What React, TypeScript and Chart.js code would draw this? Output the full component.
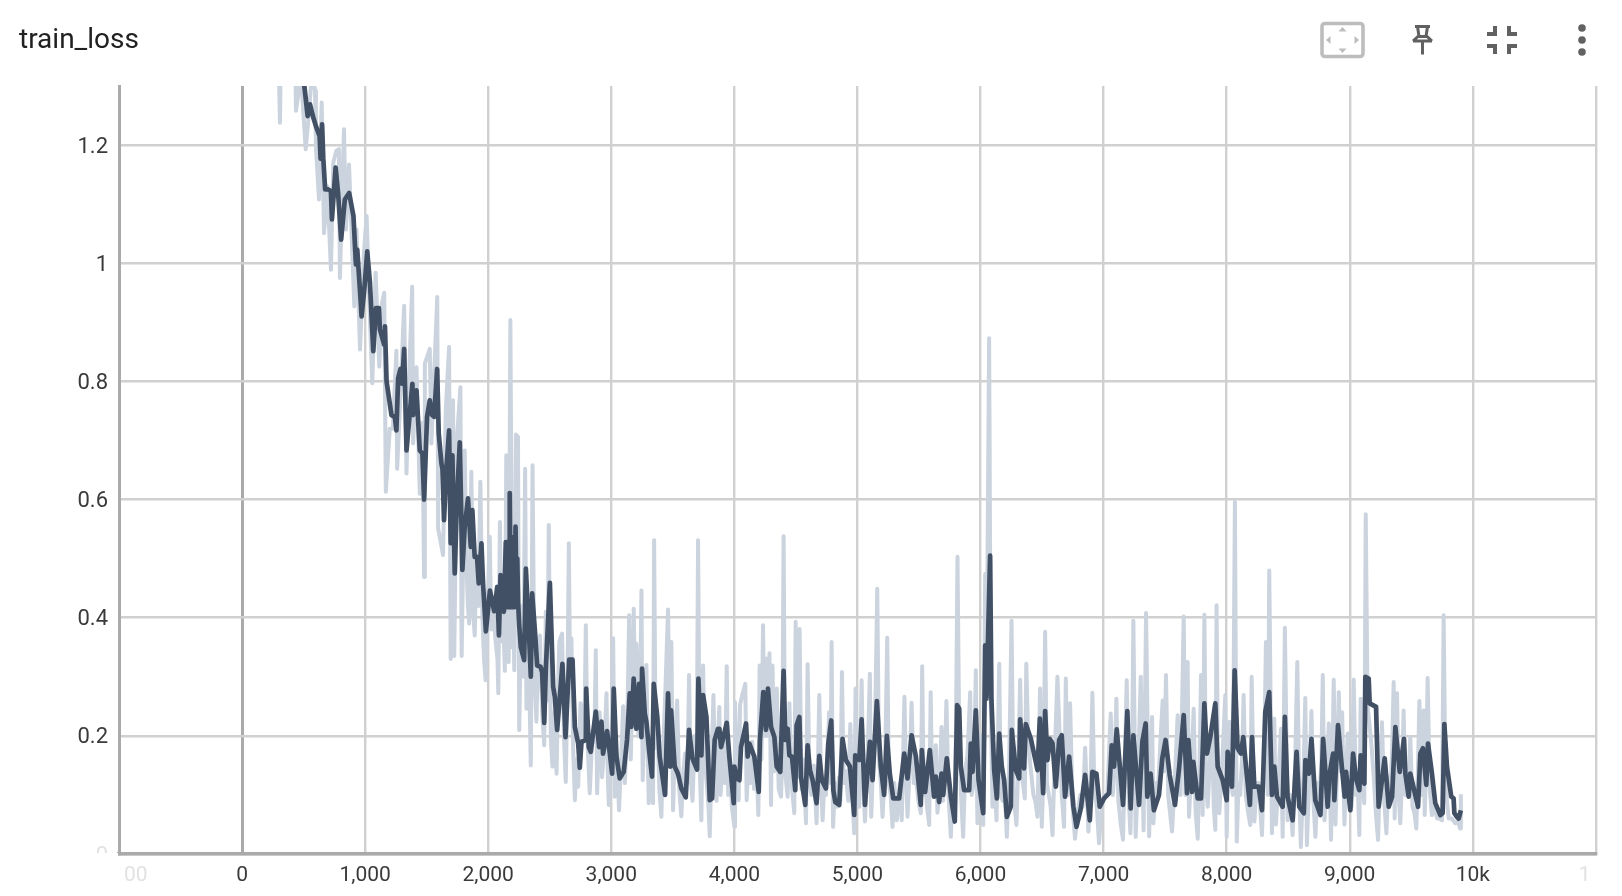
import { useEffect, useRef } from 'react';
import { Chart, registerables } from 'chart.js';

Chart.register(...registerables);

const TITLE = 'train_loss';
const X_TICKS = [-1000, 0, 1000, 2000, 3000, 4000, 5000, 6000, 7000, 8000, 9000, 10000, 11000];
const X_TICK_LABELS: Record<number, string> = { 10000: '10k', 11000: '11k' };
const FADED_X_TICKS = [-1000, 11000];

// smoothed line
const smoothSteps = [
  270, 400, 506, 533, 552, 574, 600, 630, 638, 650,
  660, 675, 700, 722, 730, 760, 780, 805, 835, 870,
  905, 925, 936, 963, 971, 993, 1017, 1039, 1066, 1088,
  1112, 1120, 1155, 1161, 1174, 1214, 1241, 1254, 1268, 1287,
  1300, 1317, 1336, 1384, 1390, 1417, 1444, 1465, 1479, 1503,
  1525, 1544, 1560, 1585, 1598, 1620, 1628, 1641, 1660, 1682,
  1695, 1709, 1728, 1747, 1769, 1790, 1809, 1836, 1858, 1871,
  1890, 1909, 1923, 1945, 1958, 1981, 2014, 2049, 2073, 2087,
  2100, 2127, 2143, 2148, 2154, 2160, 2166, 2171, 2175, 2182,
  2188, 2194, 2199, 2204, 2210, 2216, 2222, 2230, 2236, 2243,
  2252, 2265, 2292, 2306, 2330, 2346, 2357, 2379,
  2398, 2425, 2438, 2455, 2468, 2501, 2528, 2541, 2560, 2582,
  2603, 2628, 2658, 2685, 2704, 2731, 2744, 2758, 2793, 2796,
  2817, 2833, 2874, 2901, 2920, 2933, 2966, 2988, 3007, 3020,
  3042, 3069, 3101, 3128, 3150, 3163, 3182, 3204, 3226, 3245,
  3250, 3272, 3285, 3307, 3331, 3345, 3374, 3393, 3437, 3461,
  3480, 3486, 3515, 3542, 3569, 3605, 3632, 3659, 3697, 3708,
  3732, 3746, 3773, 3800, 3819, 3840, 3867, 3878, 3892, 3938,
  3959, 3995, 4000, 4019, 4041, 4054, 4095, 4108, 4122, 4162,
  4198, 4208, 4235, 4257, 4273, 4298, 4325, 4344, 4373, 4400,
  4414, 4433, 4447, 4468, 4495, 4506, 4528, 4541, 4576, 4595,
  4614, 4636, 4668, 4690, 4711, 4744, 4763, 4787, 4804, 4820,
  4852, 4879, 4906, 4939, 4974, 4982, 5015, 5034, 5061, 5101,
  5123, 5158, 5190, 5217, 5239, 5263, 5291, 5339, 5380, 5407,
  5440, 5475, 5515, 5523, 5550, 5588, 5623, 5637, 5664, 5683,
  5697, 5726, 5759, 5791, 5810, 5827, 5840, 5867, 5908, 5921,
  5935, 5962, 5984, 6022, 6038, 6049, 6078, 6089, 6111, 6133,
  6152, 6173, 6192, 6214, 6246, 6254, 6287, 6314, 6322, 6354,
  6368, 6409, 6463, 6482, 6509, 6525, 6544, 6563, 6585, 6612,
  6639, 6660, 6687, 6720, 6755, 6780, 6815, 6850, 6888, 6909,
  6942, 6969, 7004, 7045, 7066, 7085, 7107, 7158, 7193, 7220,
  7242, 7288, 7315, 7342, 7355, 7382, 7409, 7450, 7477, 7504,
  7537, 7580, 7612, 7651, 7678, 7689, 7719, 7729, 7765, 7792,
  7819, 7840, 7867, 7908, 7927, 7968, 8000, 8008, 8043, 8065,
  8089, 8116, 8135, 8157, 8189, 8206, 8225, 8260, 8287, 8314,
  8346, 8368, 8387, 8409, 8455, 8473, 8495, 8536, 8568, 8590,
  8627, 8640, 8668, 8689, 8720, 8762, 8784, 8821, 8835, 8865,
  8875, 8905, 8932, 8959, 8970, 9005, 9027, 9051, 9078, 9089,
  9119, 9127, 9154, 9162, 9214, 9235, 9284, 9317, 9344, 9371,
  9406, 9441, 9452, 9479, 9492, 9555, 9574, 9595, 9622, 9636,
  9668, 9695, 9736, 9755, 9769, 9790, 9825, 9844, 9850, 9871,
  9885, 9903,
];
const smoothLoss = [
  1.65, 1.45, 1.3, 1.249, 1.269, 1.25, 1.232, 1.215, 1.177, 1.235,
  1.177, 1.125, 1.125, 1.122, 1.074, 1.162, 1.119, 1.04, 1.108, 1.119,
  1.08, 0.998, 1.023, 0.938, 0.91, 0.955, 1.02, 0.967, 0.851, 0.924,
  0.924, 0.888, 0.862, 0.893, 0.8, 0.743, 0.74, 0.717, 0.805, 0.821,
  0.796, 0.855, 0.683, 0.796, 0.743, 0.785, 0.683, 0.678, 0.6, 0.74,
  0.768, 0.743, 0.74, 0.821, 0.712, 0.661, 0.652, 0.565, 0.652, 0.717,
  0.526, 0.675, 0.475, 0.604, 0.697, 0.481, 0.554, 0.602, 0.52, 0.582,
  0.503, 0.503, 0.458, 0.526, 0.458, 0.377, 0.446, 0.411, 0.452, 0.37,
  0.472, 0.41, 0.528, 0.418, 0.528, 0.418, 0.52, 0.418, 0.611, 0.418,
  0.5, 0.418, 0.536, 0.418, 0.5, 0.418, 0.554, 0.42, 0.5, 0.425,
  0.387, 0.35, 0.328, 0.483, 0.379, 0.3, 0.441, 0.379,
  0.319, 0.317, 0.308, 0.222, 0.314, 0.459, 0.283, 0.266, 0.21, 0.266,
  0.322, 0.198, 0.329, 0.329, 0.215, 0.187, 0.146, 0.19, 0.193, 0.28,
  0.181, 0.173, 0.241, 0.181, 0.224, 0.17, 0.208, 0.17, 0.136, 0.28,
  0.165, 0.128, 0.139, 0.193, 0.272, 0.215, 0.297, 0.212, 0.288, 0.198,
  0.314, 0.238, 0.224, 0.176, 0.131, 0.288, 0.232, 0.165, 0.1, 0.272,
  0.148, 0.243, 0.148, 0.136, 0.111, 0.096, 0.21, 0.162, 0.143, 0.297,
  0.167, 0.269, 0.232, 0.091, 0.094, 0.193, 0.212, 0.212, 0.181, 0.222,
  0.165, 0.086, 0.148, 0.128, 0.125, 0.181, 0.221, 0.165, 0.187, 0.165,
  0.105, 0.193, 0.274, 0.21, 0.28, 0.215, 0.198, 0.148, 0.139, 0.31,
  0.193, 0.212, 0.167, 0.165, 0.108, 0.218, 0.232, 0.131, 0.083, 0.184,
  0.142, 0.125, 0.086, 0.166, 0.125, 0.111, 0.187, 0.226, 0.108, 0.088,
  0.083, 0.195, 0.159, 0.148, 0.066, 0.167, 0.159, 0.228, 0.083, 0.19,
  0.125, 0.259, 0.148, 0.1, 0.2, 0.136, 0.094, 0.094, 0.17, 0.128,
  0.201, 0.165, 0.083, 0.176, 0.105, 0.176, 0.097, 0.131, 0.088, 0.136,
  0.1, 0.162, 0.097, 0.055, 0.252, 0.246, 0.148, 0.108, 0.108, 0.187,
  0.139, 0.243, 0.125, 0.069, 0.353, 0.263, 0.505, 0.26, 0.142, 0.094,
  0.204, 0.148, 0.125, 0.063, 0.08, 0.21, 0.142, 0.128, 0.228, 0.145,
  0.22, 0.195, 0.142, 0.229, 0.103, 0.242, 0.159, 0.195, 0.187, 0.114,
  0.193, 0.201, 0.097, 0.165, 0.08, 0.046, 0.077, 0.134, 0.057, 0.139,
  0.136, 0.08, 0.094, 0.103, 0.184, 0.148, 0.211, 0.083, 0.242, 0.077,
  0.201, 0.083, 0.19, 0.221, 0.097, 0.136, 0.074, 0.1, 0.162, 0.193,
  0.134, 0.083, 0.142, 0.235, 0.103, 0.193, 0.105, 0.156, 0.094, 0.094,
  0.255, 0.17, 0.198, 0.255, 0.148, 0.125, 0.091, 0.173, 0.114, 0.311,
  0.179, 0.17, 0.198, 0.148, 0.083, 0.198, 0.114, 0.114, 0.074, 0.241,
  0.274, 0.1, 0.148, 0.097, 0.08, 0.232, 0.097, 0.057, 0.173, 0.08,
  0.069, 0.159, 0.136, 0.195, 0.091, 0.066, 0.195, 0.08, 0.134, 0.17,
  0.091, 0.218, 0.156, 0.097, 0.139, 0.074, 0.17, 0.128, 0.108, 0.167,
  0.119, 0.3, 0.297, 0.255, 0.249, 0.08, 0.162, 0.08, 0.097, 0.215,
  0.139, 0.195, 0.136, 0.097, 0.136, 0.08, 0.17, 0.179, 0.117, 0.187,
  0.136, 0.086, 0.066, 0.069, 0.22, 0.148, 0.097, 0.094, 0.069, 0.063,
  0.06, 0.074,
];

// raw line, drawn pale behind the smoothed one
const rawSteps = [
  270, 308, 330, 420, 438, 457, 470, 484, 517, 539,
  560, 575, 593, 600, 625, 647, 666, 693, 722, 741,
  765, 787, 795, 828, 844, 869, 912, 930, 958, 990,
  1012, 1030, 1058, 1085, 1115, 1135, 1155, 1168, 1200, 1225,
  1254, 1260, 1281, 1317, 1336, 1350, 1382, 1390, 1417, 1444,
  1465, 1479, 1485, 1525, 1538, 1586, 1593, 1633, 1655, 1682,
  1695, 1714, 1724, 1745, 1774, 1784, 1800, 1809, 1822, 1835,
  1845, 1855, 1863, 1875, 1890, 1905, 1920, 1936, 1953, 1966,
  1979, 1995, 2012, 2025, 2040, 2060, 2075, 2082, 2095, 2108,
  2120, 2135, 2147, 2158, 2166, 2180, 2195, 2203, 2212, 2225,
  2242, 2252, 2268, 2285, 2300, 2311, 2328, 2346, 2360, 2375,
  2392, 2405, 2420, 2438, 2455, 2468, 2480, 2492, 2508, 2522,
  2538, 2555, 2570, 2578, 2600, 2615, 2630, 2645, 2655, 2665,
  2676, 2690, 2704, 2718, 2731, 2742, 2750, 2772, 2785, 2793,
  2805, 2825, 2845, 2862, 2874, 2885, 2905, 2925, 2945, 2961,
  2972, 2980, 3000, 3015, 3028, 3045, 3063, 3080, 3096, 3110,
  3130, 3145, 3158, 3170, 3182, 3195, 3204, 3220, 3235, 3245,
  3255, 3270, 3285, 3304, 3322, 3339, 3348, 3360, 3375, 3390,
  3407, 3420, 3440, 3461, 3475, 3488, 3502, 3518, 3535, 3552,
  3569, 3585, 3600, 3618, 3632, 3645, 3660, 3678, 3695, 3705,
  3718, 3732, 3746, 3760, 3775, 3790, 3800, 3815, 3830, 3843,
  3855, 3867, 3878, 3888, 3905, 3922, 3938, 3950, 3965, 3980,
  4000, 4005, 4020, 4035, 4046, 4065, 4089, 4100, 4115, 4130,
  4145, 4160, 4180, 4195, 4205, 4220, 4233, 4245, 4257, 4270,
  4285, 4298, 4310, 4325, 4345, 4360, 4379, 4390, 4400, 4412,
  4433, 4447, 4465, 4487, 4498, 4512, 4530, 4545, 4562, 4582,
  4595, 4610, 4625, 4645, 4668, 4680, 4690, 4705, 4717, 4732,
  4745, 4770, 4782, 4790, 4802, 4818, 4835, 4850, 4862, 4874,
  4888, 4905, 4925, 4942, 4958, 4974, 4985, 4998, 5015, 5034,
  5048, 5061, 5080, 5101, 5112, 5128, 5142, 5161, 5175, 5190,
  5204, 5225, 5242, 5255, 5270, 5285, 5300, 5320, 5345, 5360,
  5382, 5395, 5407, 5425, 5440, 5458, 5475, 5495, 5515, 5526,
  5538, 5550, 5565, 5583, 5595, 5608, 5622, 5637, 5650, 5665,
  5683, 5695, 5710, 5723, 5740, 5759, 5772, 5790, 5800, 5813,
  5826, 5842, 5859, 5875, 5895, 5916, 5928, 5945, 5962, 5975,
  5990, 6005, 6022, 6038, 6050, 6070, 6083, 6097, 6115, 6130,
  6152, 6165, 6180, 6198, 6214, 6232, 6252, 6268, 6292, 6308,
  6322, 6338, 6360, 6372, 6388, 6405, 6430, 6445, 6463, 6484,
  6498, 6512, 6525, 6540, 6555, 6570, 6585, 6605, 6625, 6643,
  6660, 6679, 6693, 6710, 6728, 6748, 6768, 6790, 6810, 6830,
  6850, 6877, 6895, 6909, 6925, 6945, 6963, 6985, 7005, 7030,
  7058, 7075, 7090, 7104, 7120, 7140, 7158, 7172, 7188, 7203,
  7218, 7230, 7242, 7261, 7282, 7302, 7325, 7345, 7370, 7394,
  7405, 7425, 7440, 7467, 7480, 7493, 7507, 7525, 7556, 7580,
  7602, 7625, 7651, 7665, 7683, 7694, 7715, 7732, 7748, 7765,
  7780, 7792, 7805, 7819, 7832, 7846, 7865, 7880, 7895, 7908,
  7918, 7930, 7940, 7965, 7989, 8000, 8012, 8022, 8037, 8050,
  8067, 8082, 8097, 8110, 8125, 8138, 8155, 8175, 8192, 8203,
  8225, 8245, 8260, 8287, 8305, 8319, 8335, 8346, 8368, 8387,
  8400, 8420, 8441, 8455, 8473, 8495, 8515, 8536, 8555, 8574,
  8590, 8603, 8625, 8639, 8652, 8672, 8689, 8705, 8721, 8740,
  8755, 8770, 8781, 8795, 8815, 8830, 8848, 8860, 8870, 8884,
  8898, 8911, 8925, 8938, 8957, 8972, 8984, 9000, 9015, 9032,
  9050, 9065, 9078, 9089, 9105, 9118, 9130, 9145, 9160, 9178,
  9195, 9212, 9230, 9248, 9262, 9280, 9298, 9315, 9330, 9345,
  9357, 9365, 9384, 9398, 9411, 9425, 9438, 9452, 9465, 9480,
  9492, 9510, 9525, 9541, 9555, 9566, 9585, 9601, 9609, 9622,
  9633, 9650, 9668, 9690, 9710, 9730, 9750, 9763, 9777, 9790,
  9804, 9830, 9858, 9880, 9897, 9903,
];
const rawLoss = [
  1.6, 1.238, 1.6, 1.5, 1.258, 1.286, 1.36, 1.3, 1.193, 1.244,
  1.3, 1.32, 1.292, 1.198, 1.108, 1.272, 1.051, 1.13, 0.989, 1.17,
  1.19, 1.193, 0.975, 1.227, 1.057, 1.167, 0.927, 1.057, 0.854, 1.017,
  1.08, 0.96, 0.797, 0.984, 0.825, 0.93, 0.95, 0.613, 0.72, 0.72,
  0.852, 0.652, 0.75, 0.928, 0.644, 0.76, 0.96, 0.695, 0.824, 0.61,
  0.73, 0.469, 0.83, 0.855, 0.695, 0.943, 0.551, 0.506, 0.751, 0.858,
  0.33, 0.768, 0.335, 0.7, 0.79, 0.335, 0.55, 0.683, 0.5, 0.42,
  0.39, 0.5, 0.647, 0.42, 0.37, 0.5, 0.42, 0.63, 0.4, 0.33,
  0.294, 0.42, 0.537, 0.38, 0.42, 0.36, 0.33, 0.272, 0.562, 0.36,
  0.42, 0.31, 0.675, 0.33, 0.325, 0.904, 0.35, 0.42, 0.311, 0.71,
  0.706, 0.21, 0.42, 0.3, 0.652, 0.246, 0.36, 0.15, 0.658, 0.3,
  0.224, 0.35, 0.37, 0.24, 0.184, 0.41, 0.26, 0.557, 0.2, 0.148,
  0.24, 0.136, 0.3, 0.36, 0.373, 0.2, 0.122, 0.3, 0.526, 0.3,
  0.365, 0.18, 0.091, 0.16, 0.114, 0.2, 0.255, 0.2, 0.26, 0.387,
  0.2, 0.103, 0.2, 0.19, 0.345, 0.103, 0.24, 0.13, 0.19, 0.272,
  0.13, 0.083, 0.17, 0.365, 0.097, 0.17, 0.074, 0.16, 0.25, 0.12,
  0.22, 0.404, 0.16, 0.26, 0.415, 0.25, 0.356, 0.2, 0.28, 0.446,
  0.125, 0.22, 0.32, 0.086, 0.16, 0.086, 0.531, 0.18, 0.22, 0.11,
  0.063, 0.17, 0.28, 0.414, 0.2, 0.359, 0.074, 0.19, 0.26, 0.11,
  0.064, 0.14, 0.17, 0.12, 0.303, 0.13, 0.09, 0.2, 0.18, 0.531,
  0.15, 0.057, 0.319, 0.16, 0.12, 0.08, 0.03, 0.16, 0.269, 0.13,
  0.09, 0.2, 0.249, 0.1, 0.18, 0.12, 0.318, 0.1, 0.14, 0.08,
  0.046, 0.257, 0.14, 0.091, 0.252, 0.27, 0.288, 0.091, 0.17, 0.12,
  0.19, 0.11, 0.15, 0.066, 0.319, 0.16, 0.387, 0.2, 0.331, 0.2,
  0.34, 0.083, 0.319, 0.14, 0.28, 0.11, 0.097, 0.17, 0.538, 0.14,
  0.097, 0.255, 0.12, 0.069, 0.393, 0.13, 0.381, 0.11, 0.16, 0.052,
  0.321, 0.13, 0.1, 0.15, 0.052, 0.16, 0.269, 0.12, 0.057, 0.13,
  0.1, 0.24, 0.12, 0.359, 0.046, 0.12, 0.08, 0.13, 0.09, 0.308,
  0.12, 0.14, 0.09, 0.22, 0.1, 0.035, 0.28, 0.1, 0.08, 0.294,
  0.12, 0.055, 0.14, 0.305, 0.063, 0.16, 0.2, 0.449, 0.16, 0.12,
  0.063, 0.15, 0.366, 0.12, 0.1, 0.046, 0.12, 0.057, 0.12, 0.057,
  0.266, 0.13, 0.063, 0.15, 0.256, 0.12, 0.13, 0.09, 0.069, 0.318,
  0.1, 0.13, 0.08, 0.049, 0.274, 0.1, 0.14, 0.184, 0.07, 0.1,
  0.215, 0.09, 0.16, 0.259, 0.1, 0.029, 0.1, 0.09, 0.2, 0.503,
  0.22, 0.1, 0.029, 0.14, 0.17, 0.274, 0.1, 0.12, 0.311, 0.052,
  0.15, 0.2, 0.049, 0.474, 0.3, 0.873, 0.26, 0.08, 0.12, 0.057,
  0.322, 0.1, 0.09, 0.1, 0.029, 0.14, 0.395, 0.1, 0.049, 0.16,
  0.295, 0.13, 0.094, 0.322, 0.19, 0.15, 0.1, 0.09, 0.063, 0.28,
  0.046, 0.14, 0.376, 0.12, 0.1, 0.08, 0.032, 0.18, 0.3, 0.2,
  0.1, 0.046, 0.297, 0.1, 0.255, 0.08, 0.026, 0.07, 0.1, 0.08,
  0.18, 0.038, 0.12, 0.273, 0.11, 0.08, 0.018, 0.08, 0.1, 0.1,
  0.238, 0.1, 0.15, 0.263, 0.09, 0.05, 0.024, 0.15, 0.294, 0.1,
  0.035, 0.14, 0.395, 0.029, 0.15, 0.3, 0.04, 0.408, 0.03, 0.232,
  0.052, 0.12, 0.1, 0.21, 0.26, 0.14, 0.303, 0.1, 0.038, 0.13,
  0.235, 0.1, 0.402, 0.1, 0.325, 0.063, 0.15, 0.246, 0.07, 0.026,
  0.16, 0.303, 0.066, 0.405, 0.12, 0.08, 0.16, 0.22, 0.08, 0.041,
  0.421, 0.12, 0.069, 0.16, 0.269, 0.029, 0.15, 0.224, 0.12, 0.1,
  0.596, 0.021, 0.12, 0.1, 0.16, 0.269, 0.1, 0.07, 0.049, 0.3,
  0.055, 0.12, 0.12, 0.032, 0.16, 0.359, 0.1, 0.48, 0.035, 0.229,
  0.05, 0.12, 0.212, 0.029, 0.383, 0.057, 0.1, 0.032, 0.14, 0.325,
  0.1, 0.012, 0.14, 0.264, 0.015, 0.13, 0.242, 0.09, 0.029, 0.12,
  0.1, 0.16, 0.303, 0.057, 0.14, 0.221, 0.024, 0.16, 0.295, 0.05,
  0.15, 0.274, 0.14, 0.24, 0.05, 0.14, 0.204, 0.1, 0.08, 0.295,
  0.1, 0.12, 0.032, 0.263, 0.12, 0.086, 0.575, 0.25, 0.221, 0.18,
  0.13, 0.07, 0.024, 0.15, 0.223, 0.09, 0.035, 0.13, 0.1, 0.18,
  0.291, 0.06, 0.272, 0.1, 0.052, 0.13, 0.243, 0.1, 0.1, 0.13,
  0.198, 0.08, 0.07, 0.043, 0.15, 0.259, 0.1, 0.243, 0.066, 0.16,
  0.298, 0.11, 0.066, 0.08, 0.06, 0.06, 0.057, 0.404, 0.136, 0.09,
  0.06, 0.06, 0.052, 0.055, 0.043, 0.101,
];

const toPoints = (steps: number[], values: number[]) =>
  steps.map((x, i) => ({ x, y: values[i] }));

// covers the ends of the tick labels that run past the plot area
const clipLabels = {
  id: 'clipLabels',
  afterDraw(chart: Chart) {
    const { ctx, chartArea, width, height } = chart;
    ctx.save();
    ctx.fillStyle = '#fff';
    ctx.fillRect(0, chartArea.bottom - 1, chartArea.left - 1, height);
    ctx.fillRect(0, chartArea.bottom + 6, chartArea.left + 5, height);
    ctx.fillRect(chartArea.right - 5, chartArea.bottom + 6, width, height);
    ctx.restore();
  },
};

const App = () => {
  const canvasRef = useRef<HTMLCanvasElement>(null);

  useEffect(() => {
    if (!canvasRef.current) return;
    const chart = new Chart(canvasRef.current, {
      type: 'line',
      data: {
        datasets: [
          {
            label: 'smoothed',
            data: toPoints(smoothSteps, smoothLoss),
            borderColor: '#425066',
            borderWidth: 4.7,
            borderJoinStyle: 'round',
            pointRadius: 0,
            tension: 0,
          },
          {
            label: 'raw',
            data: toPoints(rawSteps, rawLoss),
            borderColor: '#cbd3de',
            borderWidth: 4,
            borderJoinStyle: 'round',
            pointRadius: 0,
            tension: 0,
          },
        ],
      },
      options: {
        animation: false,
        responsive: false,
        devicePixelRatio: 1,
        parsing: false,
        normalized: true,
        layout: { padding: { top: 86, right: 25 } },
        plugins: { legend: { display: false }, tooltip: { enabled: false } },
        scales: {
          x: {
            type: 'linear',
            min: -1000,
            max: 11000,
            afterBuildTicks: (scale) => {
              scale.ticks = X_TICKS.map((value) => ({ value }));
            },
            afterFit: (scale) => {
              scale.height = 42;
            },
            border: { color: '#aaaaaa', width: 3.5 },
            grid: {
              drawTicks: false,
              color: (c) => (c.tick.value === 0 ? '#aaaaaa' : '#d0d0d0'),
              lineWidth: (c) => (c.tick.value === 0 ? 3 : 2.4),
            },
            ticks: {
              autoSkip: false,
              maxRotation: 0,
              padding: 9,
              font: { family: 'Roboto', size: 21 },
              color: (c) => (FADED_X_TICKS.includes(c.tick.value) ? '#e2e2e2' : '#3a3a3a'),
              callback: (v) => X_TICK_LABELS[Number(v)] ?? Number(v).toLocaleString('en-US'),
            },
          },
          y: {
            type: 'linear',
            min: 0,
            max: 1.3,
            afterFit: (scale) => {
              scale.width = 119;
            },
            border: { color: '#aaaaaa', width: 3 },
            grid: {
              drawTicks: false,
              color: '#d0d0d0',
              lineWidth: 2.4,
            },
            ticks: {
              stepSize: 0.2,
              includeBounds: false,
              padding: 11,
              labelOffset: 2,
              font: { family: 'Roboto', size: 22 },
              color: (c) => (c.tick.value === 0 ? '#e2e2e2' : '#3a3a3a'),
              callback: (v) => String(Math.round(Number(v) * 10) / 10),
            },
          },
        },
      },
      plugins: [clipLabels],
    });
    return () => chart.destroy();
  }, []);

  return (
    <div style={{ position: 'fixed', left: 0, top: 0, width: 1622, height: 896, background: '#fff', overflow: 'hidden' }}>
      <canvas ref={canvasRef} width={1622} height={896} style={{ position: 'absolute', left: 0, top: 0 }} />
      <div style={{ position: 'absolute', left: 19, top: 23, fontFamily: 'Roboto', fontSize: 28, lineHeight: '32px', color: '#212121' }}>
        {TITLE}
      </div>
      <svg width={1622} height={80} style={{ position: 'absolute', left: 0, top: 0 }}>
        <rect x={1322} y={23.5} width={41} height={33} rx={3} fill="none" stroke="#bdbdbd" strokeWidth={3.6} />
        <path d="M1342.5 27 l4 4.5 h-8 z M1342.5 53 l4 -4.5 h-8 z M1326 40 l4.5 -4 v8 z M1359 40 l-4.5 -4 v8 z" fill="#bdbdbd" />
        <path d="M1415 26.5 h15 M1417.5 26.5 l1.5 10 M1427.5 26.5 l-1.5 10 M1413 41 h19 M1413 41 l5 -4.5 h9 l5 4.5 M1422.5 41 v13.5" fill="none" stroke="#616161" strokeWidth={3} />
        <path d="M1497 26 v10 h-10 v-4 h6 v-6 z M1507 26 v10 h10 v-4 h-6 v-6 z M1497 54 v-10 h-10 v4 h6 v6 z M1507 54 v-10 h10 v4 h-6 v6 z" fill="#616161" />
        <circle cx={1582} cy={28} r={3.8} fill="#616161" />
        <circle cx={1582} cy={40} r={3.8} fill="#616161" />
        <circle cx={1582} cy={52} r={3.8} fill="#616161" />
      </svg>
    </div>
  );
};

export default App;
